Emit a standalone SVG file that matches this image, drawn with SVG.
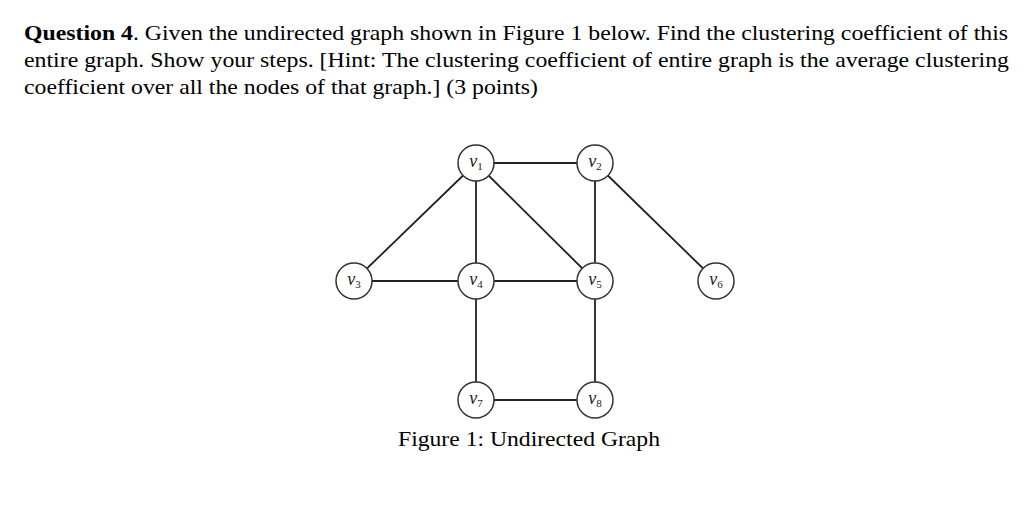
<svg xmlns="http://www.w3.org/2000/svg" width="1024" height="511" viewBox="0 0 1024 511">
<style>
.t{font-family:"Liberation Serif",serif;font-size:22px;fill:#000}
.n circle{fill:#fff;stroke:#333;stroke-width:1.5}
.n text{font-family:"Liberation Serif",serif;font-style:italic;font-size:18px;text-anchor:middle;fill:#222}
.n text tspan{font-style:normal;font-size:11px}
#edges line{stroke:#222;stroke-width:1.8}
</style>
<rect width="1024" height="511" fill="#fff"/>
<text class="t" x="24" y="40" textLength="984" lengthAdjust="spacingAndGlyphs"><tspan font-weight="bold">Question 4</tspan>. Given the undirected graph shown in Figure 1 below. Find the clustering coefficient of this</text>
<text class="t" x="24" y="67" textLength="985" lengthAdjust="spacingAndGlyphs">entire graph. Show your steps. [Hint: The clustering coefficient of entire graph is the average clustering</text>
<text class="t" x="24" y="94" textLength="514" lengthAdjust="spacingAndGlyphs">coefficient over all the nodes of that graph.] (3 points)</text>
<g id="edges">
<line x1="476" y1="163" x2="595" y2="163"/>
<line x1="476" y1="163" x2="354" y2="281"/>
<line x1="476" y1="163" x2="476" y2="281"/>
<line x1="476" y1="163" x2="595" y2="281"/>
<line x1="595" y1="163" x2="595" y2="281"/>
<line x1="595" y1="163" x2="716" y2="281"/>
<line x1="354" y1="281" x2="476" y2="281"/>
<line x1="476" y1="281" x2="595" y2="281"/>
<line x1="476" y1="281" x2="476" y2="400"/>
<line x1="595" y1="281" x2="595" y2="400"/>
<line x1="476" y1="400" x2="595" y2="400"/>
</g>
<g id="v1" class="n"><circle cx="476" cy="163" r="18"/><text x="476" y="167">v<tspan dy="3">1</tspan></text></g>
<g id="v2" class="n"><circle cx="595" cy="163" r="18"/><text x="595" y="167">v<tspan dy="3">2</tspan></text></g>
<g id="v3" class="n"><circle cx="354" cy="281" r="18"/><text x="354" y="285">v<tspan dy="3">3</tspan></text></g>
<g id="v4" class="n"><circle cx="476" cy="281" r="18"/><text x="476" y="285">v<tspan dy="3">4</tspan></text></g>
<g id="v5" class="n"><circle cx="595" cy="281" r="18"/><text x="595" y="285">v<tspan dy="3">5</tspan></text></g>
<g id="v6" class="n"><circle cx="716" cy="281" r="18"/><text x="716" y="285">v<tspan dy="3">6</tspan></text></g>
<g id="v7" class="n"><circle cx="476" cy="400" r="18"/><text x="476" y="404">v<tspan dy="3">7</tspan></text></g>
<g id="v8" class="n"><circle cx="595" cy="400" r="18"/><text x="595" y="404">v<tspan dy="3">8</tspan></text></g>
<text class="t" x="398" y="446" textLength="262" lengthAdjust="spacingAndGlyphs">Figure 1: Undirected Graph</text>
</svg>
